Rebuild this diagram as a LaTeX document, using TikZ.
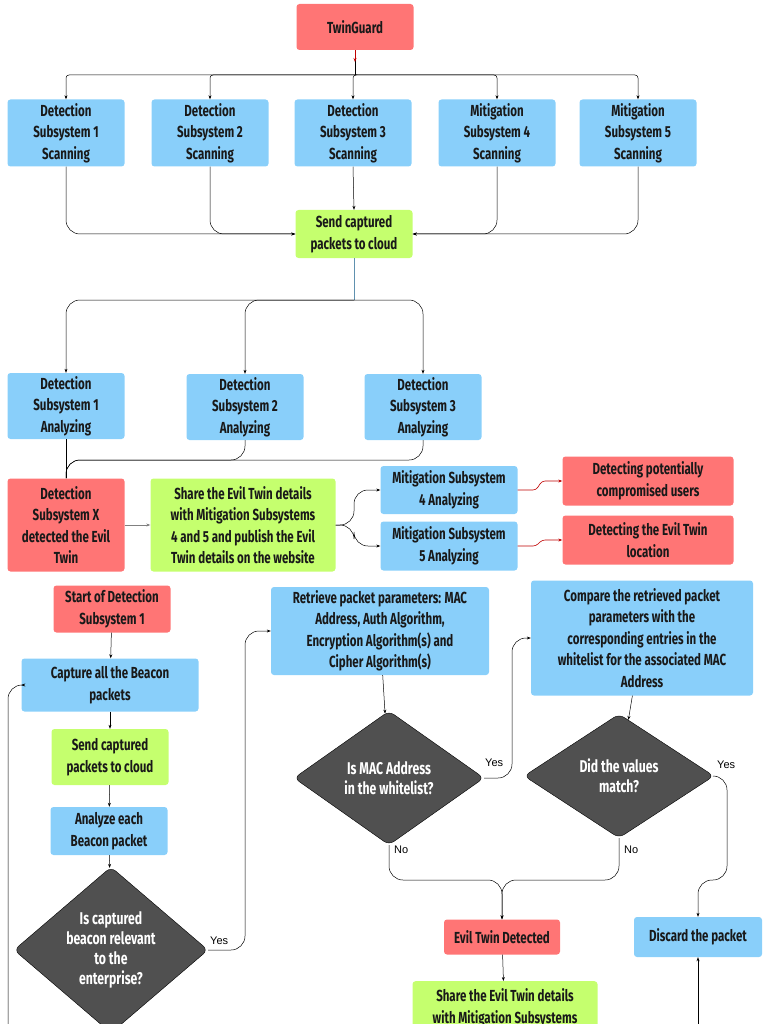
\documentclass[tikz,border=0pt]{standalone}
\usepackage{fontspec}
\setmainfont{Fira Sans}[FakeStretch=0.72]
\newfontfamily\lblfont{Liberation Sans}
\usetikzlibrary{shapes.geometric,arrows.meta}

\definecolor{tgred}{RGB}{255,117,117}
\definecolor{tgblue}{RGB}{137,207,250}
\definecolor{tggreen}{RGB}{197,255,110}
\definecolor{tgdark}{RGB}{80,80,80}

\tikzset{
  box/.style={rounded corners=3pt, align=center, inner sep=2pt,
    font=\fontsize{16}{21.5}\selectfont\bfseries, text=black!90},
  redbox/.style={box, fill=tgred},
  bluebox/.style={box, fill=tgblue},
  greenbox/.style={box, fill=tggreen},
  decision/.style={diamond, fill=tgdark, draw=black, rounded corners=6pt, align=center,
    text=white, inner sep=0pt, font=\fontsize{17}{20}\selectfont\bfseries},
  link/.style={draw=black, line width=0.5pt, rounded corners=14pt, -{Stealth[length=4pt,width=3pt]}},
  plain/.style={draw=black, line width=0.5pt, rounded corners=14pt},
  redlink/.style={draw=red!75!black, line width=0.6pt, rounded corners=3pt, -{Stealth[length=4pt,width=3pt]}},
  lbl/.style={font=\lblfont\fontsize{11}{12}\selectfont, inner sep=1pt}
}

\begin{document}
\begin{tikzpicture}[x=1pt,y=-1pt]
    \useasboundingbox (0,0) rectangle (768,1024);

    % Top level
    \node[redbox, minimum width=117pt, minimum height=46pt] (guard) at (355,27) {TwinGuard};

    % Scanning subsystems
    \node[bluebox, minimum width=117pt, minimum height=67pt] (scan1) at (66,133) {Detection\\Subsystem 1\\Scanning};
    \node[bluebox, minimum width=117pt, minimum height=67pt] (scan2) at (210,133) {Detection\\Subsystem 2\\Scanning};
    \node[bluebox, minimum width=117pt, minimum height=67pt] (scan3) at (353,133) {Detection\\Subsystem 3\\Scanning};
    \node[bluebox, minimum width=117pt, minimum height=67pt] (scan4) at (497,133) {Mitigation\\Subsystem 4\\Scanning};
    \node[bluebox, minimum width=117pt, minimum height=67pt] (scan5) at (638,133) {Mitigation\\Subsystem 5\\Scanning};

    \node[greenbox, minimum width=117pt, minimum height=48pt] (cloud) at (354,234) {Send captured\\packets to cloud};

    % Analyzing subsystems
    \node[bluebox, minimum width=117pt, minimum height=66pt] (ana1) at (66,406) {Detection\\Subsystem 1\\Analyzing};
    \node[bluebox, minimum width=117pt, minimum height=66pt] (ana2) at (245,407) {Detection\\Subsystem 2\\Analyzing};
    \node[bluebox, minimum width=117pt, minimum height=66pt] (ana3) at (423,407) {Detection\\Subsystem 3\\Analyzing};

    \node[redbox, minimum width=117pt, minimum height=93pt] (found) at (66,525) {Detection\\Subsystem X\\detected the Evil\\Twin};
    \node[greenbox, minimum width=185pt, minimum height=93pt] (share) at (243,525) {Share the Evil Twin details\\with Mitigation Subsystems\\4 and 5 and publish the Evil\\Twin details on the website};
    \node[bluebox, minimum width=137pt, minimum height=48pt] (mit4) at (449,490) {Mitigation Subsystem\\4 Analyzing};
    \node[bluebox, minimum width=137pt, minimum height=49pt] (mit5) at (449,546) {Mitigation Subsystem\\5 Analyzing};
    \node[redbox, minimum width=171pt, minimum height=49pt] (users) at (648,481) {Detecting potentially\\compromised users};
    \node[redbox, minimum width=171pt, minimum height=49pt] (where) at (648,540) {Detecting the Evil Twin\\location};

    % Detection subsystem 1 flow
    \node[redbox, minimum width=117pt, minimum height=47pt] (start) at (112,609) {Start of Detection\\Subsystem 1};
    \node[bluebox, minimum width=177pt, minimum height=53pt] (capture) at (110,685) {Capture all the Beacon\\packets};
    \node[greenbox, minimum width=117pt, minimum height=56pt] (send) at (110,757) {Send captured\\packets to cloud};
    \node[bluebox, minimum width=117pt, minimum height=48pt] (each) at (109,831) {Analyze each\\Beacon packet};
    \node[decision, minimum width=194pt, minimum height=140pt] (relevant) at (111,950) {Is captured\\beacon relevant\\to the\\enterprise?};

    \node[bluebox, minimum width=218pt, minimum height=88pt] (retrieve) at (380,631) {Retrieve packet parameters: MAC\\Address, Auth Algorithm,\\Encryption Algorithm(s) and\\Cipher Algorithm(s)};
    \node[decision, minimum width=190pt, minimum height=134pt] (known) at (389,778) {Is MAC Address\\in the whitelist?};
    \node[bluebox, minimum width=222pt, minimum height=115pt] (compare) at (642,638) {Compare the retrieved packet\\parameters with the\\corresponding entries in the\\whitelist for the associated MAC\\Address};
    \node[decision, minimum width=190pt, minimum height=124pt] (match) at (619,776) {Did the values\\match?};

    \node[redbox, minimum width=116pt, minimum height=35pt] (evil) at (502,937) {Evil Twin Detected};
    \node[bluebox, minimum width=128pt, minimum height=40pt] (discard) at (698,937) {Discard the packet};
    \node[greenbox, minimum width=185pt, minimum height=93pt, anchor=north] (share2) at (505,981) {Share the Evil Twin details\\with Mitigation Subsystems\\4 and 5 and publish the Evil\\Twin details on the website};

    \coordinate (loopin) at (8,1024);
    \coordinate (down) at (111,1024);
    \coordinate (discin) at (698,1024);

    % Top connectors
    \draw[plain, rounded corners=3pt] (guard.south) -- (355,75);
    \draw[redlink] (guard.south) -- (355,62);
    \foreach \s in {scan1,scan2,scan3,scan4,scan5}
        \draw[link, rounded corners=3pt] (355,75) -| (\s.north);
    \draw[link] (scan1.south) |- (cloud.west);
    \draw[link] (scan2.south) |- (cloud.west);
    \draw[link] (scan3.south) -- (cloud.north);
    \draw[link] (scan4.south) |- (cloud.east);
    \draw[link] (scan5.south) |- (cloud.east);

    \draw[draw=tgblue!70!black, line width=0.5pt] (cloud.south) -- (354,300);
    \foreach \a in {ana1,ana2,ana3}
        \draw[link] (354,300) -| (\a.north);

    \draw[plain] (ana1.south) -- (found.north);
    \draw[plain] (ana2.south) |- (66,460) -- (found.north);
    \draw[plain] (ana3.south) |- (66,460) -- (found.north);

    \draw[link, draw=gray] (found.east) -- (share.west);
    \draw[link] (share.east) -- (354,525) |- (mit4.west);
    \draw[link] (share.east) -- (354,525) |- (mit5.west);
    \draw[redlink] (mit4.east) -- (536,490) -- (542,481) -- (users.west);
    \draw[redlink] (mit5.east) -- (536,546) -- (542,540) -- (where.west);

    % Detection subsystem 1 connectors
    \draw[link] (start) -- (capture);
    \draw[link] (capture) -- (send);
    \draw[link] (send) -- (each);
    \draw[link] (each) -- (relevant);
    \draw[plain] (relevant) -- (down);
    \draw[link] (relevant.east) -| (245,631) -- (retrieve.west);
    \node[lbl, anchor=south west] at (209,946) {Yes};
    \draw[link] (loopin) |- (capture.west);

    \draw[link] (retrieve) -- (known);
    \draw[link] (known.east) -| (512,638) -- (compare.west);
    \node[lbl, anchor=south west] at (484,768) {Yes};
    \draw[link] (compare) -- (match);
    \draw[link] (match.east) -| (727,880) -| (discard.north);
    \node[lbl, anchor=south west] at (716,770) {Yes};

    \draw[link] (known.south) |- (502,880) -- (evil.north);
    \node[lbl, anchor=north west] at (393,845) {No};
    \draw[link] (match.south) |- (502,880) -- (evil.north);
    \node[lbl, anchor=north west] at (623,845) {No};
    \draw[link] (evil) -- (share2);
    \draw[link] (discin) -- (discard.south);
\end{tikzpicture}
\end{document}
